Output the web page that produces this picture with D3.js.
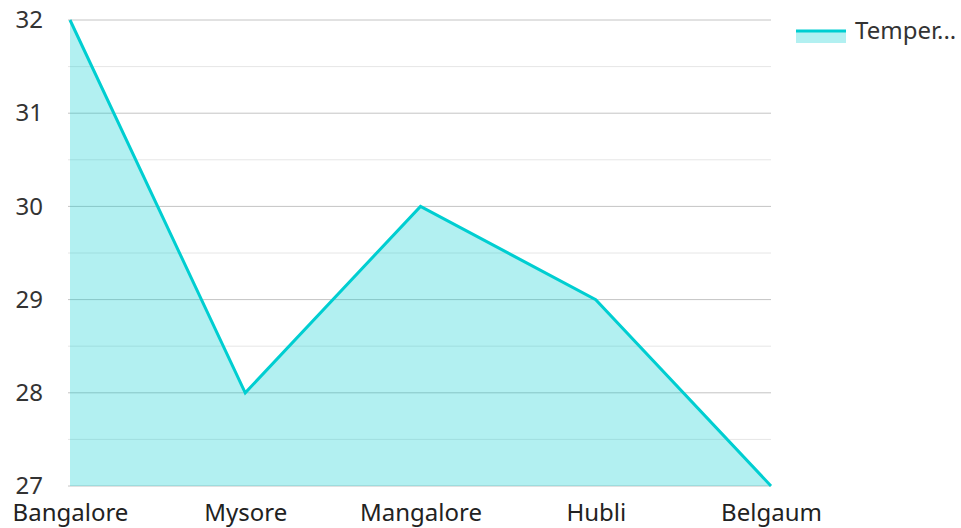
<!DOCTYPE html>
<html>
<head>
<meta charset="utf-8">
<script src="https://cdn.jsdelivr.net/npm/d3@7"></script>
<style>
  body { margin: 0; background: #fff; }
  svg text { font-family: "Noto Sans", "Open Sans", sans-serif; }
</style>
</head>
<body>
<script>
// data
var cities = ['Bangalore', 'Mysore', 'Mangalore', 'Hubli', 'Belgaum'];
var temperature = [32, 28, 30, 29, 27];
var yTicks = [27, 28, 29, 30, 31, 32];
var seriesName = 'Temperature';

var w = 961, h = 528;
var plotLeft = 70, plotRight = 771, plotTop = 20, plotBottom = 486;

var svg = d3.select('body').append('svg')
  .attr('width', w)
  .attr('height', h);

var xScale = d3.scalePoint()
  .domain(cities)
  .range([plotLeft, plotRight]);

var yScale = d3.scaleLinear()
  .domain([27, 32])
  .range([plotBottom, plotTop]);

// minor grid (half steps)
var minor = d3.range(27.5, 32, 1);
svg.append('g').selectAll('line')
  .data(minor)
  .enter().append('line')
  .attr('x1', plotLeft - 2).attr('x2', plotRight)
  .attr('y1', d => yScale(d)).attr('y2', d => yScale(d))
  .attr('stroke', '#e6e6e6')
  .attr('stroke-width', 1);

// major grid
svg.append('g').selectAll('line')
  .data(yTicks)
  .enter().append('line')
  .attr('x1', plotLeft - 2).attr('x2', plotRight)
  .attr('y1', d => yScale(d)).attr('y2', d => yScale(d))
  .attr('stroke', '#c4c4c4')
  .attr('stroke-width', 1);

// area + line
var data = cities.map((c, i) => [c, temperature[i]]);

var area = d3.area()
  .x(d => xScale(d[0]))
  .y0(yScale(27))
  .y1(d => yScale(d[1]));

var line = d3.line()
  .x(d => xScale(d[0]))
  .y(d => yScale(d[1]));

svg.append('path')
  .datum(data)
  .attr('d', area)
  .attr('fill', '#00ced1')
  .attr('fill-opacity', 0.3);

svg.append('path')
  .datum(data)
  .attr('d', line)
  .attr('fill', 'none')
  .attr('stroke', '#00ced1')
  .attr('stroke-width', 3)
  .attr('stroke-linejoin', 'miter');

// y axis labels
var yAxis = d3.axisLeft(yScale)
  .tickValues(yTicks)
  .tickFormat(d3.format('d'))
  .tickSize(0)
  .tickPadding(0);

var gy = svg.append('g')
  .attr('transform', 'translate(43,0)')
  .call(yAxis);
gy.select('.domain').remove();
gy.selectAll('text')
  .attr('font-size', 24)
  .attr('fill', '#333')
  .attr('font-family', '"Noto Sans", sans-serif');

// x axis labels
var xAxis = d3.axisBottom(xScale)
  .tickSize(0)
  .tickPadding(0);

var gx = svg.append('g')
  .attr('transform', 'translate(0,' + (plotBottom + 18) + ')')
  .call(xAxis);
gx.select('.domain').remove();
gx.selectAll('text')
  .attr('font-size', 24)
  .attr('fill', '#222')
  .attr('font-family', '"Noto Sans", sans-serif')
  .attr('dy', '0.71em');

// legend
var lg = svg.append('g').attr('transform', 'translate(796,31)');
lg.append('rect')
  .attr('x', 0).attr('y', 0)
  .attr('width', 50).attr('height', 12)
  .attr('fill', '#00ced1').attr('fill-opacity', 0.3);
lg.append('line')
  .attr('x1', 0).attr('x2', 50)
  .attr('y1', 0).attr('y2', 0)
  .attr('stroke', '#00ced1').attr('stroke-width', 3);
lg.append('text')
  .attr('x', 59).attr('y', 0)
  .attr('dy', '0.35em')
  .attr('font-size', 24)
  .attr('fill', '#333')
  .text(seriesName.slice(0, 6) + '...');
</script>
</body>
</html>
